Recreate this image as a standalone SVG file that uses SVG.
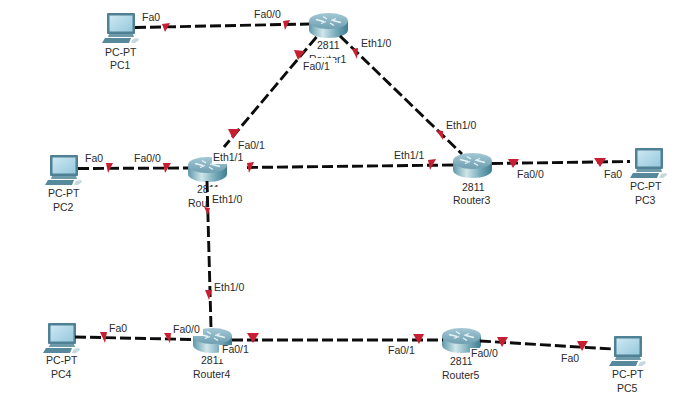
<svg xmlns="http://www.w3.org/2000/svg" width="700" height="401" viewBox="0 0 700 401">
<style>
text{font-family:"Liberation Sans",Arial,sans-serif;font-size:10.5px;fill:#2b2b2b}
.link{stroke:#0c0c0c;stroke-width:2.9;stroke-dasharray:11 4;fill:none}
.tip{fill:#c81e32}
.mask{fill:#fff}
</style>
<defs>
<linearGradient id="rb" x1="0" x2="1" y1="0" y2="0"><stop offset="0" stop-color="#5f98a9"/><stop offset=".35" stop-color="#cfe6ea"/><stop offset=".7" stop-color="#74a9b8"/><stop offset="1" stop-color="#3f7d90"/></linearGradient>
<linearGradient id="rt" x1="0" x2="0" y1="0" y2="1"><stop offset="0" stop-color="#a3c8d5"/><stop offset="1" stop-color="#6f9fb1"/></linearGradient>
<linearGradient id="sc" x1="0" x2="1" y1="0" y2="1"><stop offset="0" stop-color="#cde8f3"/><stop offset="1" stop-color="#96c8dc"/></linearGradient>
<g id="router">
<path d="M0 8V17C0 21.500 9 25 19.500 25S39 21.500 39 17V8Z" fill="url(#rb)"/>
<ellipse cx="19.500" cy="8" rx="19.500" ry="8" fill="url(#rt)"/>
<path d="M7 6.500L15 8.500M12 10.500L17 8.500M32 9.500L24 7.500M27 5.500L22 7.500M14 3.500L18 6M25 12.500L21 10" stroke="#e9f3f6" stroke-width="1.300" fill="none"/>
</g>
<g id="pc">
<rect x="5" y="0" width="28" height="21" rx="1" fill="#4f8093"/>
<rect x="7.500" y="2.500" width="23" height="16" fill="url(#sc)"/>
<path d="M7 21H31L32 24H6Z" fill="#6f9aa9"/>
<path d="M3 25H29L27 30H0Z" fill="#55899b"/>
<path d="M31 26L36 25L37 27L33 30H29Z" fill="#c5d8de"/>
</g>
</defs>
<rect width="700" height="401" fill="#fff"/>
<g id="PC1"><use href="#pc" x="102" y="13"/><text x="105" y="56">PC-PT</text><text x="110" y="69">PC1</text></g>
<g id="PC2"><use href="#pc" x="45" y="155"/><text x="48" y="197">PC-PT</text><text x="53" y="211">PC2</text></g>
<g id="PC3"><use href="#pc" x="630" y="148"/><text x="630" y="190">PC-PT</text><text x="635" y="204">PC3</text></g>
<g id="PC4"><use href="#pc" x="43" y="323"/><text x="46" y="364">PC-PT</text><text x="51" y="378">PC4</text></g>
<g id="PC5"><use href="#pc" x="609" y="336"/><text x="612" y="378">PC-PT</text><text x="617" y="392">PC5</text></g>
<g id="Router1"><use href="#router" x="309" y="13"/><text x="317" y="49">2811</text><text x="309" y="63">Router1</text></g>
<g id="Router2"><use href="#router" x="188" y="157"/><text x="197" y="193">2811</text><text x="188" y="207">Router2</text></g>
<g id="Router3"><use href="#router" x="453" y="153"/><text x="462" y="191">2811</text><text x="453" y="204">Router3</text></g>
<g id="Router4"><use href="#router" x="193" y="328"/><text x="201" y="364">2811</text><text x="193" y="378">Router4</text></g>
<g id="Router5"><use href="#router" x="442" y="328"/><text x="450" y="365">2811</text><text x="442" y="379">Router5</text></g>
<g id="link-masks">
<rect class="mask" x="302" y="58" width="33" height="14"/>
<rect class="mask" x="212" y="153" width="35" height="11"/>
<rect class="mask" x="209" y="187" width="36" height="23"/>
<rect class="mask" x="172" y="324" width="31" height="12"/>
<rect class="mask" x="219" y="345" width="32" height="14"/>
<rect class="mask" x="470" y="348" width="30" height="13"/>
</g>
<g id="connectors">
<path class="link" d="M135 27.500L309 24"/>
<path class="link" d="M316.500 37L224 147"/>
<path class="link" d="M340 36L462 154"/>
<path class="link" d="M78 168.500L188 168"/>
<path class="link" d="M247 167.500L453 165"/>
<path class="link" d="M492 163.500L630 161.500"/>
<path class="link" d="M207 181L211 328"/>
<path class="link" d="M75 337L193 339.500"/>
<path class="link" d="M232 340L443 340"/>
<path class="link" d="M480 341L612 349"/>
<polygon class="tip" points="165,32 170,23 162,24"/>
<polygon class="tip" points="285,30 290,20 283,21"/>
<polygon class="tip" points="294,50 305,51 298,60"/>
<polygon class="tip" points="228,129 240,129 233,139"/>
<polygon class="tip" points="352,49 358,48 357,59"/>
<polygon class="tip" points="436,130 443,131 443,140"/>
<polygon class="tip" points="106,163 113,163 108,173"/>
<polygon class="tip" points="163,163 171,163 165,173"/>
<polygon class="tip" points="247,163 254,162 249,173"/>
<polygon class="tip" points="428,160 436,159 430,170"/>
<polygon class="tip" points="508,159 519,159 513,168"/>
<polygon class="tip" points="594,158 606,158 600,167"/>
<polygon class="tip" points="204,207 210,208 208,215"/>
<polygon class="tip" points="205,290 212,290 209,300"/>
<polygon class="tip" points="100,332 107,332 105,343"/>
<polygon class="tip" points="164,333 171,333 170,343"/>
<polygon class="tip" points="247,333 259,333 253,343"/>
<polygon class="tip" points="413,334 424,334 419,344"/>
<polygon class="tip" points="497,337 508,337 502,347"/>
<polygon class="tip" points="577,341 588,341 582,351"/>
</g>
<g id="link-labels">
<text x="142" y="21">Fa0</text>
<text x="254" y="18">Fa0/0</text>
<text x="361" y="47">Eth1/0</text>
<text x="303" y="70">Fa0/1</text>
<text x="85" y="162">Fa0</text>
<text x="134" y="162">Fa0/0</text>
<text x="238" y="149">Fa0/1</text>
<text x="213" y="161">Eth1/1</text>
<text x="212" y="203">Eth1/0</text>
<text x="446" y="129">Eth1/0</text>
<text x="394" y="159">Eth1/1</text>
<text x="517" y="178">Fa0/0</text>
<text x="604" y="178">Fa0</text>
<text x="214" y="291">Eth1/0</text>
<text x="109" y="332">Fa0</text>
<text x="173" y="333">Fa0/0</text>
<text x="222" y="353">Fa0/1</text>
<text x="388" y="354">Fa0/1</text>
<text x="471" y="357">Fa0/0</text>
<text x="561" y="362">Fa0</text>
</g>
</svg>
